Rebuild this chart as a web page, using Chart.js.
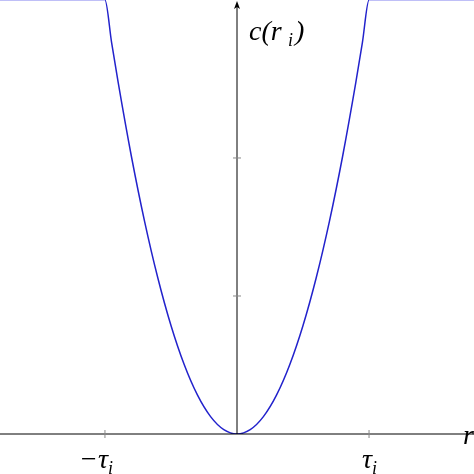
<!DOCTYPE html>
<html><head><meta charset="utf-8">
<script src="https://cdn.jsdelivr.net/npm/chart.js@4/dist/chart.umd.min.js"></script>
<style>html,body{margin:0;padding:0;background:#fff}</style>
</head><body>
<canvas id="c" width="474" height="474"></canvas>
<script>
const rValues = [-1.8,-1.7,-1.6,-1.5,-1.4,-1.3,-1.2,-1.1,-1.0,-0.95,-0.9,-0.8,-0.7,-0.6,-0.5,-0.4,-0.3,-0.2,-0.1,0,0.1,0.2,0.3,0.4,0.5,0.6,0.7,0.8,0.9,0.95,1.0,1.1,1.2,1.3,1.4,1.5,1.6,1.7,1.8];
const cValues = [1,1,1,1,1,1,1,1,1,0.9025,0.81,0.64,0.49,0.36,0.25,0.16,0.09,0.04,0.01,0,0.01,0.04,0.09,0.16,0.25,0.36,0.49,0.64,0.81,0.9025,1,1,1,1,1,1,1,1,1];
const xTicks = [-1, 1];
const xTickLabels = ['−τ', 'τ'];
const yTicks = [0.318, 0.636];
const F = '"Liberation Serif", "DejaVu Serif", serif';

const axes = {
  id: 'axes',
  afterDraw(chart) {
    const ctx = chart.ctx, x = chart.scales.x, y = chart.scales.y;
    const x0 = x.getPixelForValue(0), y0 = y.getPixelForValue(0);
    ctx.save();
    ctx.strokeStyle = '#000'; ctx.fillStyle = '#000'; ctx.lineWidth = 1;
    ctx.beginPath();
    ctx.moveTo(0, y0); ctx.lineTo(474, y0);
    ctx.moveTo(x0, y0); ctx.lineTo(x0, 4);
    ctx.stroke();
    ctx.beginPath(); ctx.moveTo(x0, 1); ctx.lineTo(x0-3, 9); ctx.lineTo(x0, 7); ctx.lineTo(x0+3, 9); ctx.closePath(); ctx.fill();
    ctx.strokeStyle = '#888';
    ctx.beginPath();
    xTicks.forEach(t => { const p = x.getPixelForValue(t); ctx.moveTo(p, y0-4); ctx.lineTo(p, y0+4); });
    yTicks.forEach(t => { const p = y.getPixelForValue(t); ctx.moveTo(x0-4, p); ctx.lineTo(x0+4, p); });
    ctx.stroke();
    ctx.fillStyle = '#000';
    ctx.textBaseline = 'alphabetic'; ctx.textAlign = 'right';
    xTicks.forEach((t, i) => {
      const p = x.getPixelForValue(t);
      ctx.font = 'italic 28px ' + F;
      ctx.textAlign = 'right';
      ctx.fillText(xTickLabels[i], p + 3, y0 + 34);
      ctx.font = 'italic 18px ' + F;
      ctx.textAlign = 'left';
      ctx.fillText('i', p + 3, y0 + 40);
    });
    ctx.textAlign = 'left';
    ctx.font = 'italic 28px ' + F;
    ctx.fillText('c(r', 249, 40);
    ctx.font = 'italic 18px ' + F;
    ctx.fillText('i', 288, 46);
    ctx.font = 'italic 28px ' + F;
    ctx.fillText(')', 295, 40);
    ctx.fillText('r', 463, 444);
    ctx.restore();
  }
};

new Chart(document.getElementById('c'), {
  type: 'line',
  data: { datasets: [{ data: rValues.map((r, i) => ({x: r, y: cValues[i]})), borderColor: '#2222cc', borderWidth: 1.5, pointRadius: 0, cubicInterpolationMode: 'monotone', fill: false,
    segment: { borderColor: c => (c.p0.parsed.y === 1 && c.p1.parsed.y === 1) ? '#aaaaf5' : undefined } }] },
  options: {
    responsive: false, animation: false,
    layout: { padding: { left: 0, right: 0, top: 0, bottom: 40 } },
    plugins: { legend: { display: false }, tooltip: { enabled: false } },
    scales: {
      x: { type: 'linear', min: -1.795, max: 1.795, display: false },
      y: { min: 0, max: 1, display: false }
    }
  },
  plugins: [axes]
});
</script>
</body></html>
